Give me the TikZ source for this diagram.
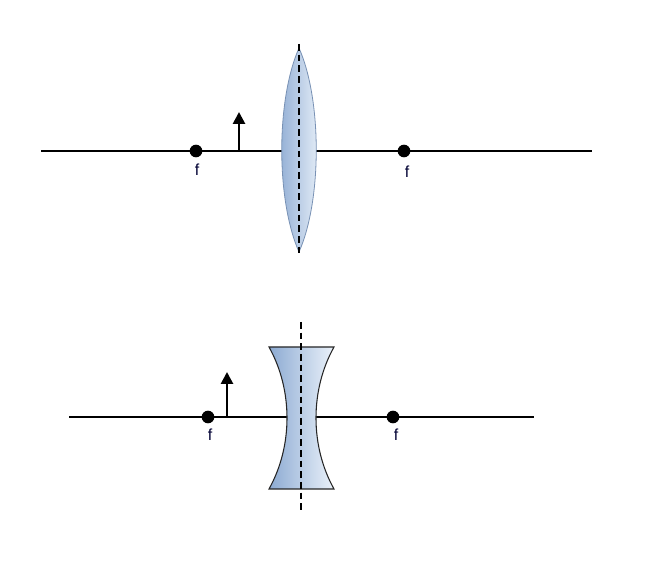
\documentclass[tikz,border=0pt]{standalone}
\usepackage{fontspec}
\setmainfont{Liberation Sans}
\usetikzlibrary{arrows.meta}
\definecolor{lensdark}{RGB}{140,170,210}
\definecolor{lenslight}{RGB}{235,242,250}
\definecolor{lensedge}{RGB}{120,145,180}
\tikzset{
  axis/.style={line width=2pt},
  focus/.style={circle,fill=black,inner sep=0pt,minimum size=9.5pt},
  flabel/.style={font=\fontsize{12}{14}\selectfont,text=black!80!blue},
  objarrow/.style={line width=2pt,-{Triangle[length=9pt,width=9pt]}},
  lensfill/.style={left color=lensdark,right color=lenslight,draw=lensedge,line width=0.6pt},
  optaxis/.style={line width=2pt,dash pattern=on 5pt off 3pt}
}
\begin{document}
\begin{tikzpicture}[x=0.75pt,y=-0.75pt]
\useasboundingbox (0,0) rectangle (672,580);
% top
\coordinate (a1) at (41,151); \coordinate (a2) at (592,151);
\draw[axis] (a1) -- (a2);
\node[focus] (f1) at (196,151) {};
\node[focus] (f2) at (404,151) {};
\node[flabel] at (197,170) {f};
\node[flabel] at (407,172) {f};
\coordinate (o1) at (239,152); \coordinate (o1t) at (239,112);
\draw[objarrow] (o1) -- (o1t);
\path[lensfill] (299,48) .. controls (276,100) and (276,200) .. (299,252) .. controls (322,200) and (322,100) .. (299,48) -- cycle;
\coordinate (d1) at (299,44); \coordinate (d2) at (299,254);
\draw[optaxis] (d1) -- (d2);
% bottom
\coordinate (b1) at (69,417); \coordinate (b2) at (534,417);
\draw[axis] (b1) -- (b2);
\node[focus] (g1) at (208,417) {};
\node[focus] (g2) at (393,417) {};
\node[flabel] at (210,435) {f};
\node[flabel] at (396,435) {f};
\coordinate (o2) at (227,418); \coordinate (o2t) at (227,372);
\draw[objarrow] (o2) -- (o2t);
\path[lensfill,draw=black!85,line width=0.8pt] (269,347) -- (334,347) .. controls (310,390) and (310,446) .. (334,489) -- (269,489) .. controls (293,446) and (293,390) .. (269,347) -- cycle;
\coordinate (e1) at (301,322); \coordinate (e2) at (301,510);
\draw[optaxis] (e1) -- (e2);
\end{tikzpicture}
\end{document}
